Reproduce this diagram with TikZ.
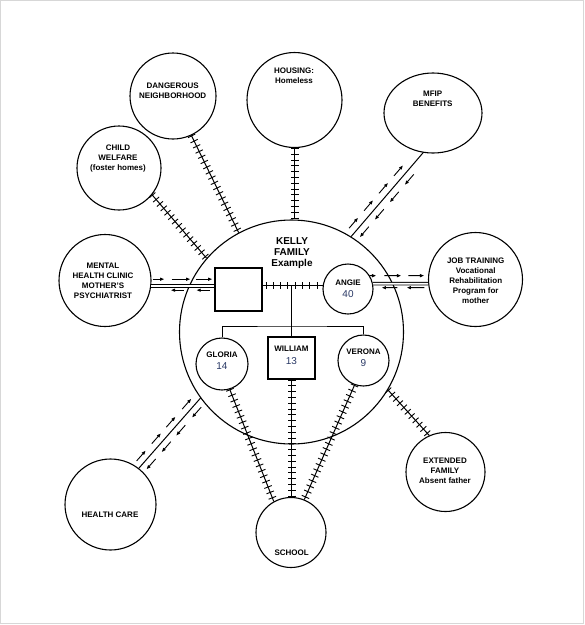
\documentclass[tikz,border=0pt]{standalone}
\usepackage{fontspec}
\setmainfont{Liberation Sans}
\usetikzlibrary{calc,arrows.meta,shapes.geometric}
\definecolor{numcol}{RGB}{40,55,100}
\definecolor{pageframe}{RGB}{215,215,215}
\begin{document}
\begin{tikzpicture}[x=1pt,y=-1pt,
  circ/.style={circle,draw,line width=1.1pt,inner sep=0pt,minimum size=#1},
  boxnode/.style={draw,line width=1.1pt,inner sep=0pt},
  lab/.style={font=\fontsize{8}{10}\selectfont\bfseries,align=center,inner sep=0pt},
  num/.style={font=\fontsize{10}{11}\selectfont,text=numcol,inner sep=0pt},
  conn/.style={line width=1pt},
  tickline/.style={line width=1pt,postaction={draw,line width=8pt,dash pattern=on 0.9pt off 4.9pt}},
  mtick/.style={line width=1pt,postaction={draw,line width=7pt,dash pattern=on 0.9pt off 6.4pt,dash phase=-3pt}},
  arr/.style={line width=0.9pt,-{Latex[length=4.5pt,width=3.6pt]}},
  dbl/.style={double,double distance=1.8pt,line width=0.8pt},
]
\useasboundingbox (0,0) rectangle (585,625);
\draw[pageframe,line width=1pt] (0.5,0.5) rectangle (583.5,623.5);

% outer circles
\node[circ=224pt] (big) at (291.5,332) {};
\node[circ=86pt] (dn) at (173,96) {};
\node[circ=84pt] (cw) at (119,168) {};
\node[circ=95pt] (hs) at (294.5,100) {};
\node[ellipse,draw,line width=1.1pt,inner sep=0pt,minimum width=98pt,minimum height=80pt] (mf) at (433,113) {};
\node[circ=92pt] (mh) at (105,280.5) {};
\node[circ=94pt] (jt) at (475.5,279.5) {};
\node[circ=91pt] (hc) at (110.5,504.5) {};
\node[circ=70pt] (sch) at (291,532.5) {};
\node[circ=79pt] (ext) at (445.5,472) {};

% inner family
\node[boxnode,minimum width=47pt,minimum height=43pt] (sq) at (238.5,289.5) {};
\node[circ=50pt] (ang) at (348,289) {};
\node[circ=52pt] (glo) at (222,364) {};
\node[boxnode,minimum width=47pt,minimum height=42pt] (wil) at (291.5,358) {};
\node[circ=51pt] (ver) at (363.5,360.5) {};

% labels
\node[lab] (dnl) at (172.7,91) {DANGEROUS\\NEIGHBORHOOD};
\node[lab] (cwl) at (118,158.5) {CHILD\\WELFARE\\(foster homes)};
\node[lab] (hsl) at (294,75.5) {HOUSING:\\Homeless};
\node[lab] (mfl) at (432.7,98.5) {MFIP\\BENEFITS};
\node[lab] (mhl) at (103,281) {MENTAL\\HEALTH CLINIC\\MOTHER'S\\PSYCHIATRIST};
\node[lab] (jtl) at (475.7,280.5) {JOB TRAINING\\Vocational\\Rehabilitation\\Program for\\mother};
\node[lab] (hcl) at (110,515) {HEALTH CARE};
\node[lab] (schl) at (291.7,553) {SCHOOL};
\node[lab] (extl) at (445,471) {EXTENDED\\FAMILY\\Absent father};
\node[lab,font=\fontsize{10}{11}\selectfont\bfseries] (kel) at (292,253) {KELLY\\FAMILY\\Example};

\node[lab] (angn) at (348,283) {ANGIE};
\node[num] (angv) at (348,294.5) {40};
\node[lab] (glon) at (222,355) {GLORIA};
\node[num] (glov) at (222,366.5) {14};
\node[lab] (wiln) at (291.5,349) {WILLIAM};
\node[num] (wilv) at (291.5,361) {13};
\node[lab] (vern) at (363.5,352) {VERONA};
\node[num] (verv) at (363.5,363.5) {9};

% hashed (stressful) connectors
\draw[tickline] (dn.-65) -- (big.118);
\draw[tickline] (cw.-39) -- (big.139.5);
\draw[tickline] (hs.south) -- (hs.south |- big.north);
\draw[tickline] (big.-31) -- (ext.114);
\draw[tickline] (glo.-73) -- (sch.119);
\draw[tickline] (ver.-110) -- (sch.68);
\draw[tickline] (wil.south) -- (wil.south |- sch.north);

% family lines
\draw[mtick] (sq.east |- ang.173) -- (ang.173);
\coordinate (mm) at (wil.north |- ang.173);
\draw[conn] (mm) -- (wil.north);
\coordinate (bar) at (291.5,326);
\draw[conn] (glo.north) |- (bar) -| (ver.north);

% MFIP flow connector
\coordinate (A1) at (big.58);
\coordinate (B1) at (mf.-104);
\draw[conn] (A1) -- (B1);
\foreach \s/\e in {5pt/19pt,28pt/42pt,51pt/65pt,74pt/88pt}{
  \coordinate (p) at ($(A1)!\s!(B1)$);
  \coordinate (q) at ($(A1)!\e!(B1)$);
  \draw[arr] ($(p)!7pt!90:(B1)$) -- ($(q)!7pt!90:(B1)$);
  \draw[arr] ($(q)!7pt!-90:(B1)$) -- ($(p)!7pt!-90:(B1)$);
}

% Health care flow connector
\coordinate (A2) at (hc.52);
\coordinate (B2) at (big.216);
\draw[conn] (A2) -- (B2);
\foreach \s/\e in {4pt/18pt,27pt/41pt,49pt/63pt,73pt/87pt}{
  \coordinate (p) at ($(A2)!\s!(B2)$);
  \coordinate (q) at ($(A2)!\e!(B2)$);
  \draw[arr] ($(p)!6.5pt!90:(B2)$) -- ($(q)!6.5pt!90:(B2)$);
  \draw[arr] ($(q)!6.5pt!-90:(B2)$) -- ($(p)!6.5pt!-90:(B2)$);
}

% Mental health flow connector
\coordinate (A3) at (mh.-7);
\coordinate (B3) at (mh.-7 -| sq.west);
\draw[dbl] (A3) -- (B3);
\foreach \s/\e in {1.4pt/13.4pt,20.4pt/39.4pt,44.4pt/61.4pt}{
  \coordinate (p) at ($(A3)!\s!(B3)$);
  \coordinate (q) at ($(A3)!\e!(B3)$);
  \draw[arr] ($(p)!7pt!90:(B3)$) -- ($(q)!7pt!90:(B3)$);
}
\foreach \s/\e in {19.4pt/32.4pt,45pt/58.4pt}{
  \coordinate (p) at ($(A3)!\s!(B3)$);
  \coordinate (q) at ($(A3)!\e!(B3)$);
  \draw[arr] ($(q)!4pt!-90:(B3)$) -- ($(p)!4pt!-90:(B3)$);
}

% Job training flow connector
\coordinate (A4) at (ang.12);
\coordinate (B4) at (jt.185);
\draw[dbl] (A4) -- (B4);
\foreach \s/\e in {-3.5pt/3.5pt,11.5pt/28.5pt,35.5pt/51.5pt}{
  \coordinate (p) at ($(A4)!\s!(B4)$);
  \coordinate (q) at ($(A4)!\e!(B4)$);
  \draw[arr] ($(p)!8pt!90:(B4)$) -- ($(q)!8pt!90:(B4)$);
}
\foreach \s/\e in {8.5pt/24.5pt,33.5pt/51.5pt}{
  \coordinate (p) at ($(A4)!\s!(B4)$);
  \coordinate (q) at ($(A4)!\e!(B4)$);
  \draw[arr] ($(q)!4pt!-90:(B4)$) -- ($(p)!4pt!-90:(B4)$);
}
\end{tikzpicture}
\end{document}
